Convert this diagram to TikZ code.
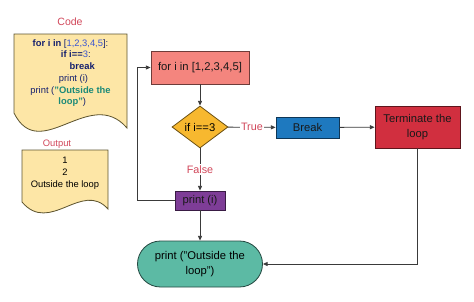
\documentclass[tikz,border=0pt]{standalone}
\usepackage{fontspec}
\setmainfont{Liberation Sans}
\usepackage{xcolor}
\usetikzlibrary{arrows.meta,positioning,shapes.geometric}

\definecolor{docfill}{HTML}{FDE6A6}
\definecolor{docline}{HTML}{5E5530}
\definecolor{forfill}{HTML}{F4857E}
\definecolor{condfill}{HTML}{F7B82F}
\definecolor{breakfill}{HTML}{1E79BF}
\definecolor{termfill}{HTML}{D12F3F}
\definecolor{printfill}{HTML}{7E3D97}
\definecolor{endfill}{HTML}{5CBAA4}
\definecolor{linegray}{HTML}{3A3A3A}
\definecolor{labelred}{HTML}{D1475A}
\definecolor{codenavy}{HTML}{15206E}
\definecolor{codeblue}{HTML}{3A55D2}
\definecolor{codeteal}{HTML}{1B8A78}

\begin{document}
\begin{tikzpicture}[
    x=0.3mm, y=-0.3mm,
    proc/.style={rectangle, draw=#1!45!black, fill=#1, line width=0.7pt, align=center, inner sep=1pt,
        font=\fontsize{9.6}{12.6}\selectfont, text=black!90},
    decide/.style={diamond, draw=condfill!45!black, fill=condfill, line width=0.7pt, inner sep=0pt, aspect=1.33,
        minimum width=16.8mm, minimum height=12.6mm, font=\fontsize{9.6}{12}\selectfont},
    term/.style={rectangle, rounded corners=6.9mm, draw=endfill!40!black, fill=endfill, line width=0.7pt,
        align=center, font=\fontsize{9.6}{12.6}\selectfont, minimum width=37.5mm, minimum height=13.8mm},
    doc/.style={draw=docline, fill=docfill, line width=0.7pt},
    lbl/.style={font=\fontsize{9.2}{11}\selectfont, text=labelred, fill=white, inner sep=1pt},
    title/.style={font=\fontsize{9}{11}\selectfont, text=labelred},
    flow/.style={draw=linegray, line width=0.7pt, -{Triangle[length=4pt,width=3.4pt]}}
]
\useasboundingbox (0,0) rectangle (474,301);

% code and output documents
\draw[doc] (14,34) -- (127,34) -- (127,128) .. controls (90,85) and (40,165) .. (14,113) -- cycle;
\draw[doc] (22,150) -- (108,150) -- (108,209) .. controls (82,180) and (50,235) .. (22,202) -- cycle;
\node[title] (codetitle) at (70,22) {Code};
\node[title, font=\fontsize{8}{10}\selectfont] (outtitle) at (57,144) {Output};
\node[align=center, font=\fontsize{8}{10}\selectfont, text=codenavy] (codetext) at (70.5,73) {%
  \textbf{for i in} [\textcolor{codeblue}{1,2,3,4,5}]:\\
  \hspace*{9pt}\textbf{if i==}\textcolor{codeblue}{3}:\\
  \hspace*{20pt}\textbf{break}\\
  \hspace*{5pt}print (i)\\
  print (\textcolor{codeteal}{\textbf{"Outside the}}\\
  \hspace*{3pt}\textcolor{codeteal}{\textbf{loop"}})};
\node[align=center, font=\fontsize{8}{10.2}\selectfont] (outtext) at (65,173) {1\\2\\Outside the loop};

% flowchart
\node[proc=forfill, minimum width=29.4mm, minimum height=9.9mm] (forbox) at (200,67.5) {for i in [1,2,3,4,5]};
\node[decide] (cond) at (200,127) {if i==3};
\node[proc=breakfill, minimum width=18.9mm, minimum height=6.3mm] (breakbox) at (307.5,127.5) {Break};
\node[proc=termfill, minimum width=25.5mm, minimum height=12.6mm] (termbox) at (417.5,127) {Terminate the\\loop};
\node[proc=printfill, minimum width=15mm, minimum height=5.7mm] (printbox) at (200,200.5) {print (i)};
\node[term] (endnode) at (200,264) {print ("Outside the\\loop")};
\coordinate (back) at (137,200.5);

\draw[flow] (forbox) -- (cond);
\draw[flow] (cond) -- node[lbl] {True} (breakbox);
\draw[flow] (cond) -- node[lbl] {False} (printbox);
\draw[flow] (breakbox) -- (termbox);
\draw[flow] (printbox) -- (endnode);
\draw[flow] (termbox.south) |- (endnode.east);
\draw[flow] (printbox.west) -- (back) |- (forbox.west);
\end{tikzpicture}
\end{document}
